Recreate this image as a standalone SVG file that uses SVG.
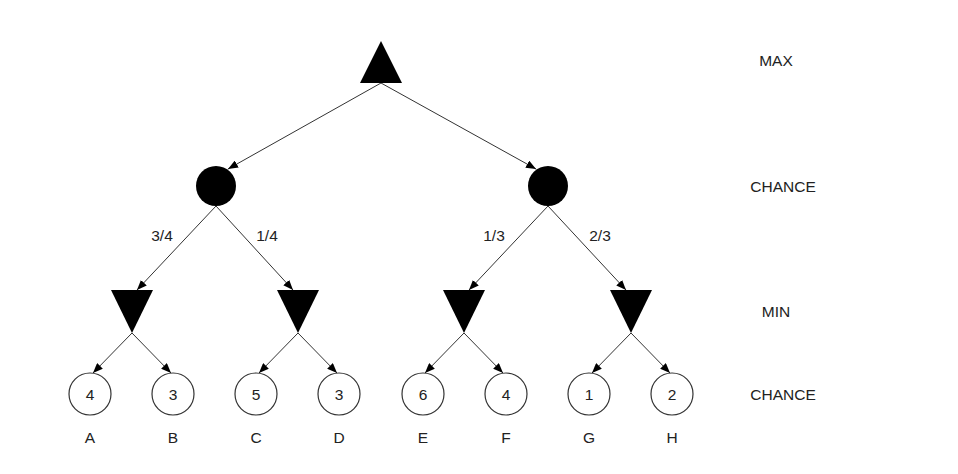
<svg xmlns="http://www.w3.org/2000/svg" width="958" height="474" viewBox="0 0 958 474">
<style>
text{font-family:"Liberation Sans",Arial,sans-serif;font-size:15.5px;fill:#222;text-anchor:middle}
.e{stroke:#333;stroke-width:1;fill:none;marker-end:url(#a)}
.leaf{fill:#fff;stroke:#333;stroke-width:1.2}
.blk{fill:#000}
</style>
<defs><marker id="a" markerWidth="10" markerHeight="8" refX="10" refY="4" orient="auto" markerUnits="userSpaceOnUse"><path d="M0,0L10,4L0,8z" fill="#000"/></marker></defs>
<rect width="958" height="474" fill="#fff"/>
<g id="connectors">
<path class="e" d="M381,83L228,169"/>
<path class="e" d="M381,83L536,169"/>
<path class="e" d="M216,206L137,290"/>
<path class="e" d="M216,206L293,290"/>
<path class="e" d="M548,206L469,290"/>
<path class="e" d="M548,206L626,290"/>
<path class="e" d="M132,333L93,373"/>
<path class="e" d="M132,333L171,373"/>
<path class="e" d="M298,333L259,373"/>
<path class="e" d="M298,333L337,373"/>
<path class="e" d="M464,333L425,373"/>
<path class="e" d="M464,333L503,373"/>
<path class="e" d="M631,333L592,373"/>
<path class="e" d="M631,333L670,373"/>
</g>
<g id="max"><polygon class="blk" points="381,41 402,83 360,83"/></g>
<g id="c1"><circle class="blk" cx="216" cy="186" r="20"/></g>
<g id="c2"><circle class="blk" cx="548" cy="186" r="20"/></g>
<g id="p"><text x="162" y="241">3/4</text><text x="267" y="241">1/4</text><text x="494" y="241">1/3</text><text x="600" y="241">2/3</text></g>
<g id="m1"><polygon class="blk" points="111,290 153,290 132,333"/></g>
<g id="m2"><polygon class="blk" points="277,290 319,290 298,333"/></g>
<g id="m3"><polygon class="blk" points="443,290 485,290 464,333"/></g>
<g id="m4"><polygon class="blk" points="610,290 652,290 631,333"/></g>
<g id="A"><circle class="leaf" cx="90" cy="394" r="21"/><text x="90" y="400">4</text><text x="90" y="443">A</text></g>
<g id="B"><circle class="leaf" cx="173" cy="394" r="21"/><text x="173" y="400">3</text><text x="173" y="443">B</text></g>
<g id="C"><circle class="leaf" cx="256" cy="394" r="21"/><text x="256" y="400">5</text><text x="256" y="443">C</text></g>
<g id="D"><circle class="leaf" cx="339" cy="394" r="21"/><text x="339" y="400">3</text><text x="339" y="443">D</text></g>
<g id="E"><circle class="leaf" cx="423" cy="394" r="21"/><text x="423" y="400">6</text><text x="423" y="443">E</text></g>
<g id="F"><circle class="leaf" cx="506" cy="394" r="21"/><text x="506" y="400">4</text><text x="506" y="443">F</text></g>
<g id="G"><circle class="leaf" cx="589" cy="394" r="21"/><text x="589" y="400">1</text><text x="589" y="443">G</text></g>
<g id="H"><circle class="leaf" cx="672" cy="394" r="21"/><text x="672" y="400">2</text><text x="672" y="443">H</text></g>
<g id="levels"><text x="776" y="66">MAX</text><text x="783" y="192">CHANCE</text><text x="776" y="317">MIN</text><text x="783" y="400">CHANCE</text></g>
</svg>
